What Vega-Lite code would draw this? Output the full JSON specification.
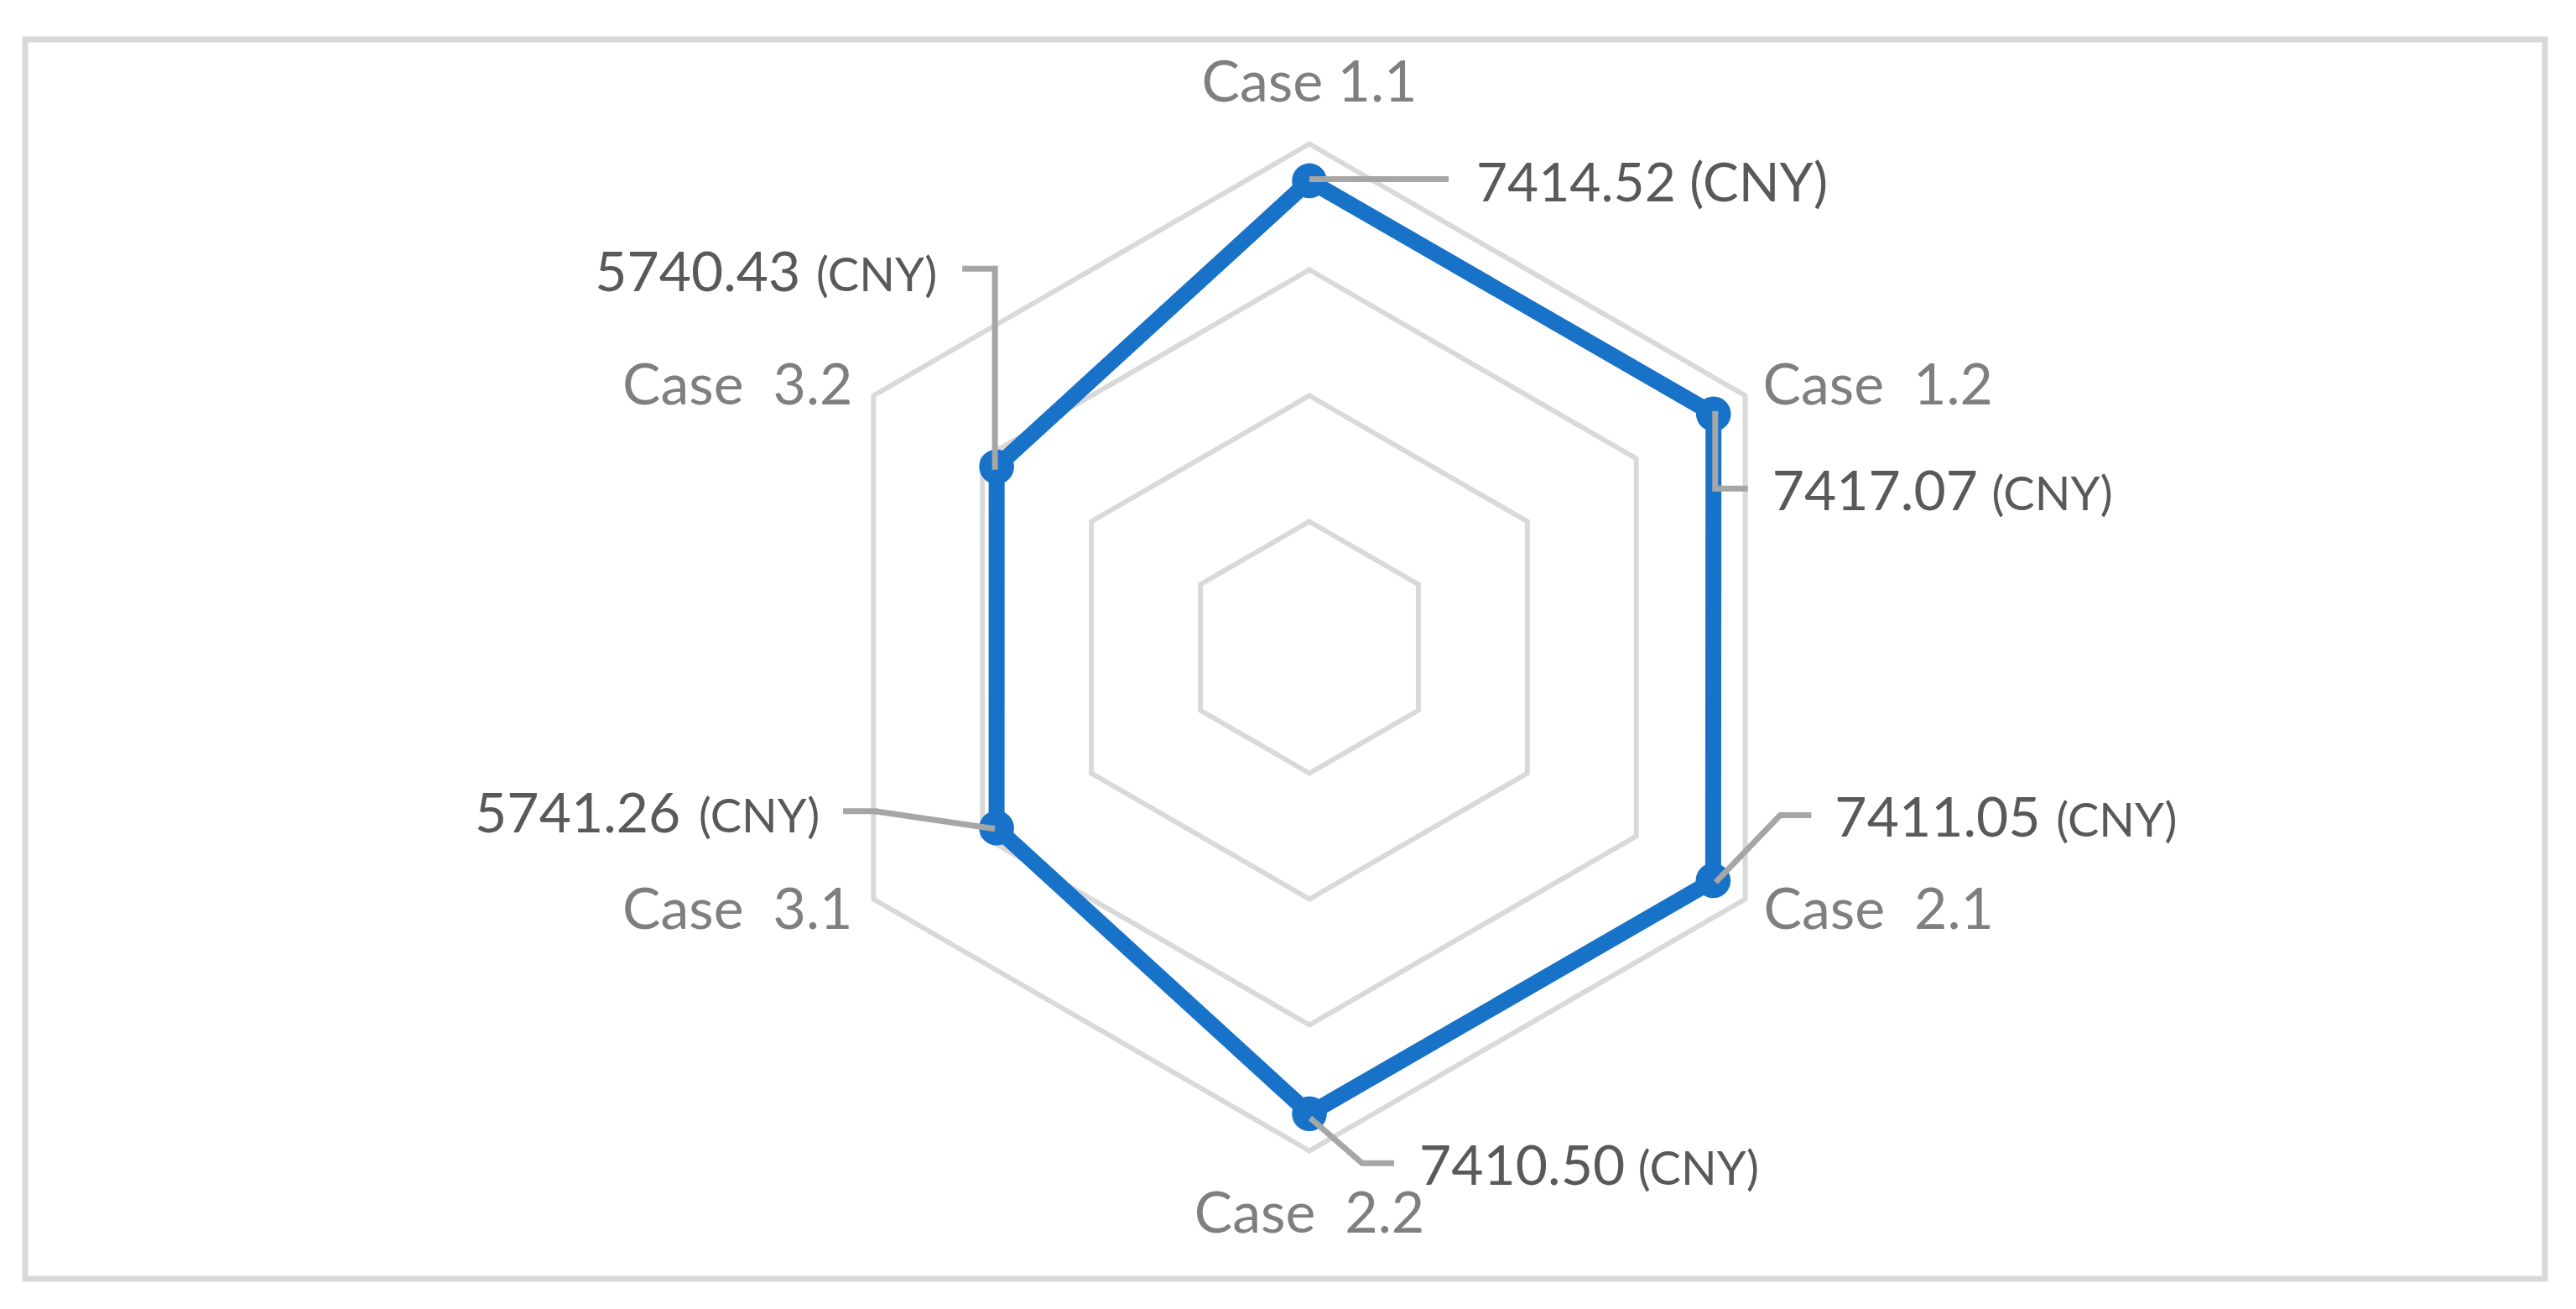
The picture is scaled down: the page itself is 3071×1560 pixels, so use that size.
{
  "$schema": "https://vega.github.io/schema/vega-lite/v6.json",
  "width": 3004,
  "height": 1477,
  "autosize": {"type": "none"},
  "padding": {"left": 30, "top": 47, "right": 37, "bottom": 36},
  "background": "white",
  "config": {"view": {"stroke": "#d9d9d9", "strokeWidth": 7}, "font": "Lato"},
  "datasets": {
    "series": [
      {"case": "Case 1.1", "value": 7414.52, "order": 0},
      {"case": "Case \u00a01.2", "value": 7417.07, "order": 1},
      {"case": "Case \u00a02.1", "value": 7411.05, "order": 2},
      {"case": "Case \u00a02.2", "value": 7410.50, "order": 3},
      {"case": "Case \u00a03.1", "value": 5741.26, "order": 4},
      {"case": "Case \u00a03.2", "value": 5740.43, "order": 5}
    ],
    "grid": [
      {"level": 2000, "order": 0}, {"level": 2000, "order": 1}, {"level": 2000, "order": 2},
      {"level": 2000, "order": 3}, {"level": 2000, "order": 4}, {"level": 2000, "order": 5},
      {"level": 4000, "order": 0}, {"level": 4000, "order": 1}, {"level": 4000, "order": 2},
      {"level": 4000, "order": 3}, {"level": 4000, "order": 4}, {"level": 4000, "order": 5},
      {"level": 6000, "order": 0}, {"level": 6000, "order": 1}, {"level": 6000, "order": 2},
      {"level": 6000, "order": 3}, {"level": 6000, "order": 4}, {"level": 6000, "order": 5},
      {"level": 8000, "order": 0}, {"level": 8000, "order": 1}, {"level": 8000, "order": 2},
      {"level": 8000, "order": 3}, {"level": 8000, "order": 4}, {"level": 8000, "order": 5}
    ]
  },
  "data": {"name": "series"},
  "encoding": {
    "x": {"field": "px", "type": "quantitative", "scale": {"domain": [-20413.33, 19640], "nice": false, "zero": false}, "axis": null},
    "y": {"field": "py", "type": "quantitative", "scale": {"domain": [-10033.33, 9660], "nice": false, "zero": false}, "axis": null}
  },
  "layer": [
    {
      "data": {"name": "grid"},
      "transform": [
        {"calculate": "datum.order * PI / 3", "as": "angle"},
        {"calculate": "datum.level * sin(datum.angle)", "as": "px"},
        {"calculate": "datum.level * cos(datum.angle)", "as": "py"}
      ],
      "mark": {"type": "line", "interpolate": "linear-closed", "stroke": "#d9d9d9", "strokeWidth": 6},
      "encoding": {"detail": {"field": "level", "type": "nominal"}, "order": {"field": "order", "type": "quantitative"}}
    },
    {
      "transform": [
        {"calculate": "datum.order * PI / 3", "as": "angle"},
        {"calculate": "datum.value * sin(datum.angle)", "as": "px"},
        {"calculate": "datum.value * cos(datum.angle)", "as": "py"}
      ],
      "mark": {"type": "line", "interpolate": "linear-closed", "stroke": "#1873c8", "strokeWidth": 19},
      "encoding": {"order": {"field": "order", "type": "quantitative"}}
    },
    {
      "transform": [
        {"calculate": "datum.order * PI / 3", "as": "angle"},
        {"calculate": "datum.value * sin(datum.angle)", "as": "px"},
        {"calculate": "datum.value * cos(datum.angle)", "as": "py"}
      ],
      "mark": {"type": "circle", "size": 1735, "color": "#1873c8", "opacity": 1}
    },
    {
      "transform": [
        {"filter": "datum.order == 0"},
        {"calculate": "datum.order * PI / 3", "as": "angle"},
        {"calculate": "datum.value * sin(datum.angle)", "as": "px"},
        {"calculate": "datum.value * cos(datum.angle)", "as": "py"}
      ],
      "layer": [
        {"mark": {"type": "rule", "stroke": "#a6a6a6", "strokeWidth": 7, "yOffset": -2, "x2Offset": 166, "y2Offset": -2}, "encoding": {"x2": {"field": "px"}, "y2": {"field": "py"}}}
      ]
    },
    {
      "transform": [
        {"filter": "datum.order == 1"},
        {"calculate": "datum.order * PI / 3", "as": "angle"},
        {"calculate": "datum.value * sin(datum.angle)", "as": "px"},
        {"calculate": "datum.value * cos(datum.angle)", "as": "py"}
      ],
      "layer": [
        {"mark": {"type": "rule", "stroke": "#a6a6a6", "strokeWidth": 7, "strokeCap": "square", "xOffset": 2, "x2Offset": 2, "y2Offset": 89}, "encoding": {"x2": {"field": "px"}, "y2": {"field": "py"}}},
        {"mark": {"type": "rule", "stroke": "#a6a6a6", "strokeWidth": 7, "xOffset": 2, "yOffset": 89, "x2Offset": 41, "y2Offset": 89}, "encoding": {"x2": {"field": "px"}, "y2": {"field": "py"}}}
      ]
    },
    {
      "transform": [
        {"filter": "datum.order == 2"},
        {"calculate": "datum.order * PI / 3", "as": "angle"},
        {"calculate": "datum.value * sin(datum.angle)", "as": "px"},
        {"calculate": "datum.value * cos(datum.angle)", "as": "py"}
      ],
      "layer": [
        {"mark": {"type": "rule", "stroke": "#a6a6a6", "strokeWidth": 7, "xOffset": 3, "yOffset": 2, "x2Offset": 80, "y2Offset": -78}, "encoding": {"x2": {"field": "px"}, "y2": {"field": "py"}}},
        {"mark": {"type": "rule", "stroke": "#a6a6a6", "strokeWidth": 7, "xOffset": 78, "yOffset": -78, "x2Offset": 117, "y2Offset": -78}, "encoding": {"x2": {"field": "px"}, "y2": {"field": "py"}}}
      ]
    },
    {
      "transform": [
        {"filter": "datum.order == 3"},
        {"calculate": "datum.order * PI / 3", "as": "angle"},
        {"calculate": "datum.value * sin(datum.angle)", "as": "px"},
        {"calculate": "datum.value * cos(datum.angle)", "as": "py"}
      ],
      "layer": [
        {"mark": {"type": "rule", "stroke": "#a6a6a6", "strokeWidth": 7, "xOffset": 1, "yOffset": 5, "x2Offset": 63, "y2Offset": 59}, "encoding": {"x2": {"field": "px"}, "y2": {"field": "py"}}},
        {"mark": {"type": "rule", "stroke": "#a6a6a6", "strokeWidth": 7, "xOffset": 61, "yOffset": 59, "x2Offset": 101, "y2Offset": 59}, "encoding": {"x2": {"field": "px"}, "y2": {"field": "py"}}}
      ]
    },
    {
      "transform": [
        {"filter": "datum.order == 4"},
        {"calculate": "datum.order * PI / 3", "as": "angle"},
        {"calculate": "datum.value * sin(datum.angle)", "as": "px"},
        {"calculate": "datum.value * cos(datum.angle)", "as": "py"}
      ],
      "layer": [
        {"mark": {"type": "rule", "stroke": "#a6a6a6", "strokeWidth": 7, "xOffset": -2, "yOffset": 1, "x2Offset": -145, "y2Offset": -20}, "encoding": {"x2": {"field": "px"}, "y2": {"field": "py"}}},
        {"mark": {"type": "rule", "stroke": "#a6a6a6", "strokeWidth": 7, "xOffset": -143, "yOffset": -20, "x2Offset": -183, "y2Offset": -20}, "encoding": {"x2": {"field": "px"}, "y2": {"field": "py"}}}
      ]
    },
    {
      "transform": [
        {"filter": "datum.order == 5"},
        {"calculate": "datum.order * PI / 3", "as": "angle"},
        {"calculate": "datum.value * sin(datum.angle)", "as": "px"},
        {"calculate": "datum.value * cos(datum.angle)", "as": "py"}
      ],
      "layer": [
        {"mark": {"type": "rule", "stroke": "#a6a6a6", "strokeWidth": 7, "strokeCap": "square", "xOffset": -2, "x2Offset": -2, "y2Offset": -236}, "encoding": {"x2": {"field": "px"}, "y2": {"field": "py"}}},
        {"mark": {"type": "rule", "stroke": "#a6a6a6", "strokeWidth": 7, "xOffset": -2, "yOffset": -236, "x2Offset": -41, "y2Offset": -236}, "encoding": {"x2": {"field": "px"}, "y2": {"field": "py"}}}
      ]
    },
    {
      "transform": [
        {"calculate": "datum.order * PI / 3", "as": "angle"},
        {"calculate": "datum.value * sin(datum.angle)", "as": "px"},
        {"calculate": "datum.value * cos(datum.angle)", "as": "py"},
        {"calculate": "format(datum.value, '.2f')", "as": "num"},
        {"calculate": "format(datum.value, '.2f') + ' (CNY)'", "as": "lab"}
      ],
      "encoding": {"text": {"field": "num", "type": "nominal"}},
      "layer": [
        {"transform": [{"filter": "datum.order == 0"}], "mark": {"type": "text", "align": "left", "baseline": "alphabetic", "dx": 199, "dy": 25, "fontSize": 64, "color": "#595959"}, "encoding": {"text": {"field": "lab", "type": "nominal"}}},
        {"transform": [{"filter": "datum.order == 1"}], "mark": {"type": "text", "align": "left", "baseline": "alphabetic", "dx": 70, "dy": 115, "fontSize": 66, "color": "#595959"}},
        {"transform": [{"filter": "datum.order == 1"}], "mark": {"type": "text", "align": "right", "baseline": "alphabetic", "dx": 476, "dy": 115, "fontSize": 56, "color": "#595959"}, "encoding": {"text": {"value": "(CNY)"}}},
        {"transform": [{"filter": "datum.order == 2"}], "mark": {"type": "text", "align": "left", "baseline": "alphabetic", "dx": 145, "dy": -52, "fontSize": 66, "color": "#595959"}},
        {"transform": [{"filter": "datum.order == 2"}], "mark": {"type": "text", "align": "right", "baseline": "alphabetic", "dx": 553, "dy": -52, "fontSize": 56, "color": "#595959"}, "encoding": {"text": {"value": "(CNY)"}}},
        {"transform": [{"filter": "datum.order == 3"}], "mark": {"type": "text", "align": "left", "baseline": "alphabetic", "dx": 131, "dy": 85, "fontSize": 66, "color": "#595959"}},
        {"transform": [{"filter": "datum.order == 3"}], "mark": {"type": "text", "align": "right", "baseline": "alphabetic", "dx": 536, "dy": 85, "fontSize": 56, "color": "#595959"}, "encoding": {"text": {"value": "(CNY)"}}},
        {"transform": [{"filter": "datum.order == 4"}], "mark": {"type": "text", "align": "left", "baseline": "alphabetic", "dx": -622, "dy": 5, "fontSize": 66, "color": "#595959"}},
        {"transform": [{"filter": "datum.order == 4"}], "mark": {"type": "text", "align": "right", "baseline": "alphabetic", "dx": -211, "dy": 5, "fontSize": 56, "color": "#595959"}, "encoding": {"text": {"value": "(CNY)"}}},
        {"transform": [{"filter": "datum.order == 5"}], "mark": {"type": "text", "align": "left", "baseline": "alphabetic", "dx": -479, "dy": -209, "fontSize": 66, "color": "#595959"}},
        {"transform": [{"filter": "datum.order == 5"}], "mark": {"type": "text", "align": "right", "baseline": "alphabetic", "dx": -71, "dy": -209, "fontSize": 56, "color": "#595959"}, "encoding": {"text": {"value": "(CNY)"}}}
      ]
    },
    {
      "transform": [
        {"calculate": "datum.order * PI / 3", "as": "angle"},
        {"calculate": "8000 * sin(datum.angle)", "as": "px"},
        {"calculate": "8000 * cos(datum.angle)", "as": "py"}
      ],
      "encoding": {"text": {"field": "case", "type": "nominal"}},
      "layer": [
        {"transform": [{"filter": "datum.order == 0"}], "mark": {"type": "text", "align": "center", "baseline": "alphabetic", "dy": -51, "fontSize": 68, "color": "#7f7f7f"}},
        {"transform": [{"filter": "datum.order == 1"}], "mark": {"type": "text", "align": "left", "baseline": "alphabetic", "dx": 21, "dy": 10, "fontSize": 68, "color": "#7f7f7f"}},
        {"transform": [{"filter": "datum.order == 2"}], "mark": {"type": "text", "align": "left", "baseline": "alphabetic", "dx": 22, "dy": 35, "fontSize": 68, "color": "#7f7f7f"}},
        {"transform": [{"filter": "datum.order == 3"}], "mark": {"type": "text", "align": "center", "baseline": "alphabetic", "dy": 97, "fontSize": 68, "color": "#7f7f7f"}},
        {"transform": [{"filter": "datum.order == 4"}], "mark": {"type": "text", "align": "right", "baseline": "alphabetic", "dx": -25, "dy": 35, "fontSize": 68, "color": "#7f7f7f"}},
        {"transform": [{"filter": "datum.order == 5"}], "mark": {"type": "text", "align": "right", "baseline": "alphabetic", "dx": -25, "dy": 10, "fontSize": 68, "color": "#7f7f7f"}}
      ]
    }
  ]
}
